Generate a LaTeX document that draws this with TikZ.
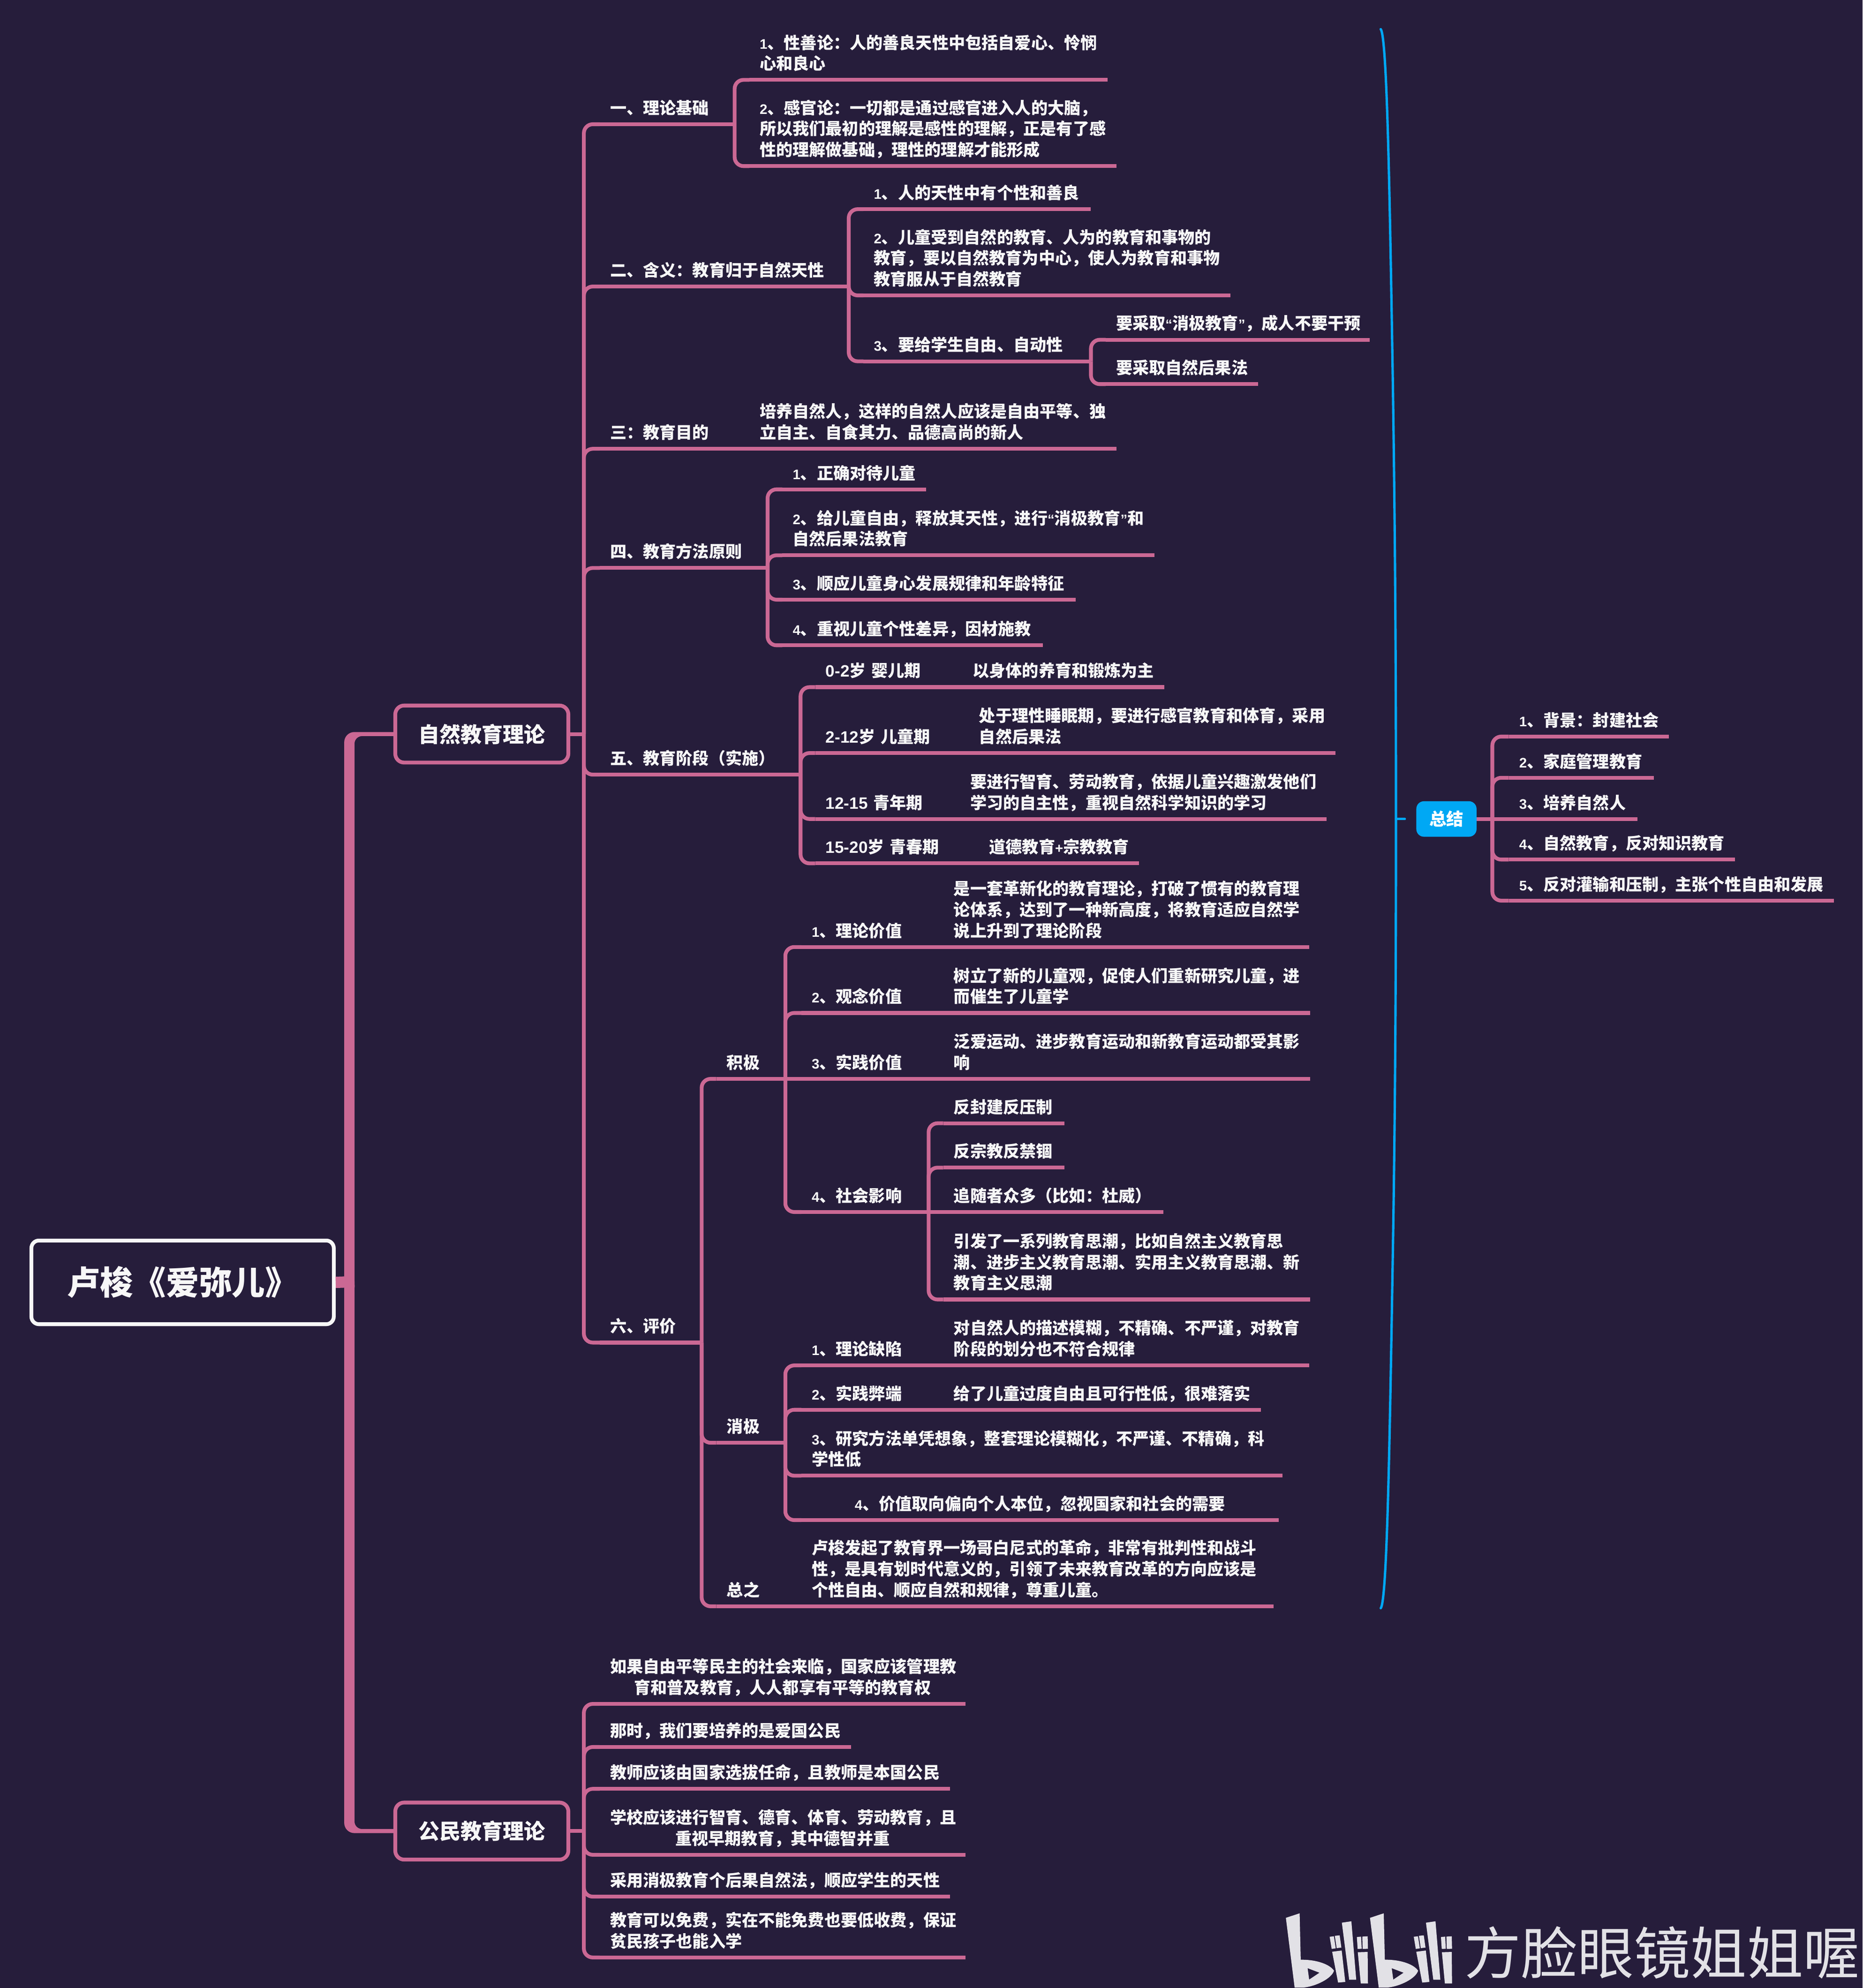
\documentclass[tikz,border=0pt]{standalone}
\usepackage{fontspec}
\setmainfont{Noto Sans CJK SC}
\newfontfamily\digf{Liberation Sans}[Scale=0.84]
\newfontfamily\qf{Liberation Sans}
\newcommand\dg[1]{{\digf #1}}
\newcommand\ag[1]{{\qf #1}}
\newcommand\oqm{{\digf “}}
\newcommand\cqm{{\digf ”}}
\usetikzlibrary{calc}
\definecolor{bgc}{HTML}{261D3B}
\definecolor{pk}{HTML}{CB6894}
\definecolor{bl}{HTML}{00A8F4}
\definecolor{wm}{HTML}{E2E1E6}
\definecolor{wh}{HTML}{F7F7F7}
\tikzset{
 lbl/.style={inner xsep=8pt,inner ysep=5.8pt,text=wh,anchor=south west,font=\fontsize{13}{16.5}\selectfont\bfseries},
 br/.style={draw=pk,line width=3pt,rounded corners=7pt},
 ul/.style={draw=pk,line width=3pt},
 topic/.style={draw=pk,fill=bgc,line width=3pt,rounded corners=7pt,minimum width=136.5pt,minimum height=45pt,inner sep=0pt,text=wh,font=\fontsize{16.7}{20}\selectfont\bfseries},
}
\newcommand\lf[6][left]{%
 \node[lbl,align=#1,text width={#4pt-#3pt-8pt}] (#2) at ({#3-8},#5) {#6\rule[-2pt]{0pt}{2pt}};
 \draw[ul] (#2.south west) -- (#2.south east);
}
\begin{document}
\begin{tikzpicture}[x=1pt,y=-1pt]
\fill[bgc] (0,0) rectangle (1469,1568.1);
\useasboundingbox (0,0) rectangle (1469,1568.1);

% root and main topics
\node[draw=wh,fill=bgc,line width=3pt,rounded corners=6pt,minimum width=238.5pt,minimum height=66pt,inner sep=0pt,text=wh,font=\fontsize{26}{30}\selectfont\bfseries] (root) at (144,1011.5) {卢梭《爱弥儿》};
\node[topic] (t1) at (380,579) {\raisebox{0.6pt}{自然教育理论}};
\node[topic] (t2) at (380,1444.3) {\raisebox{0.6pt}{公民教育理论}};
\coordinate (tr) at (279.6,1011);
\coordinate (bus1) at (460.5,579);
\coordinate (bus2) at (460.5,1444.3);

% trunk
\fill[pk] ($(t1.west)+(0,-1.6)$) -- (282,577.4) [rounded corners=8pt] -- (271.5,577.4) -- (271.5,1445.9) [sharp corners] -- ($(t2.west)+(0,1.6)$) -- ($(t2.west)+(0,-1.6)$) -- (286,1442.7) [rounded corners=6pt] -- (279.6,1442.7) -- (279.6,580.6) [sharp corners] -- (286,580.6) -- ($(t1.west)+(0,1.6)$) -- cycle;
\draw[pk,line width=8.9pt] (root.east) -- (tr);
\draw[ul] (t1.east) -- (bus1);
\draw[ul] (t2.east) -- (bus2);

% 一
\lf{La}{481}{579}{98}{一、理论基础}
\lf{a1}{599}{873}{63}{\dg{1}、性善论：人的善良天性中包括自爱心、怜悯\\心和良心}
\lf{a2}{599}{880}{131}{\dg{2}、感官论：一切都是通过感官进入人的大脑，\\所以我们最初的理解是感性的理解，正是有了感\\性的理解做基础，理性的理解才能形成}
% 二
\lf{Lb}{481}{669}{226}{二、含义：教育归于自然天性}
\lf{b1}{689}{860}{165}{\dg{1}、人的天性中有个性和善良}
\lf{b2}{689}{970}{233}{\dg{2}、儿童受到自然的教育、人为的教育和事物的\\教育，要以自然教育为中心，使人为教育和事物\\教育服从于自然教育}
\lf{b3}{689}{860}{285}{\dg{3}、要给学生自由、自动性}
\lf{c1}{880}{1080}{268}{要采取\oqm 消极教育\cqm ，成人不要干预}
\lf{c2}{880}{992}{303}{要采取自然后果法}
% 三
\lf{Lc}{481}{579}{354}{三：教育目的}
\lf{c3}{599}{880}{354}{培养自然人，这样的自然人应该是自由平等、独\\立自主、自食其力、品德高尚的新人}
% 四
\lf{Ld}{481}{605}{448}{四、教育方法原则}
\lf{d1}{625}{730}{386}{\dg{1}、正确对待儿童}
\lf{d2}{625}{910}{438}{\dg{2}、给儿童自由，释放其天性，进行\oqm 消极教育\cqm 和\\自然后果法教育}
\lf{d3}{625}{848}{473}{\dg{3}、顺应儿童身心发展规律和年龄特征}
\lf{d4}{625}{822}{509}{\dg{4}、重视儿童个性差异，因材施教}
% 五
\lf{Le}{481}{631}{611}{五、教育阶段（实施）}
\lf{e1}{651}{747}{542}{\ag{0-2}岁 婴儿期}
\lf{f1}{767}{918}{542}{以身体的养育和锻炼为主}
\lf{e2}{651}{752}{594}{\ag{2-12}岁 儿童期}
\lf{f2}{772}{1053}{594}{处于理性睡眠期，要进行感官教育和体育，采用\\自然后果法}
\lf{e3}{651}{745}{646}{\ag{12-15} 青年期}
\lf{f3}{765}{1046}{646}{要进行智育、劳动教育，依据儿童兴趣激发他们\\学习的自主性，重视自然科学知识的学习}
\lf{e4}{651}{760}{681}{\ag{15-20}岁 青春期}
\lf{f4}{780}{898}{681}{道德教育{\digf +}宗教教育}
% 六
\lf{Lf}{481}{553}{1059}{六、评价}
\lf{g1}{573}{619}{851}{积极}
\lf{h1}{640}{732}{747}{\dg{1}、理论价值}
\lf{p1}{752}{1032}{747}{是一套革新化的教育理论，打破了惯有的教育理\\论体系，达到了一种新高度，将教育适应自然学\\说上升到了理论阶段}
\lf{h2}{640}{732}{799}{\dg{2}、观念价值}
\lf{p2}{752}{1033}{799}{树立了新的儿童观，促使人们重新研究儿童，进\\而催生了儿童学}
\lf{h3}{640}{732}{851}{\dg{3}、实践价值}
\lf{p3}{752}{1033}{851}{泛爱运动、进步教育运动和新教育运动都受其影\\响}
\lf{h4}{640}{732}{956}{\dg{4}、社会影响}
\lf{i1}{752}{839}{886}{反封建反压制}
\lf{i2}{752}{839}{921}{反宗教反禁锢}
\lf{i3}{752}{917}{956}{追随者众多（比如：杜威）}
\lf{i4}{752}{1033}{1025}{引发了一系列教育思潮，比如自然主义教育思\\潮、进步主义教育思潮、实用主义教育思潮、新\\教育主义思潮}
\lf{g2}{573}{619}{1138}{消极}
\lf{j1}{640}{732}{1077}{\dg{1}、理论缺陷}
\lf{q1}{752}{1032}{1077}{对自然人的描述模糊，不精确、不严谨，对教育\\阶段的划分也不符合规律}
\lf{j2}{640}{732}{1112}{\dg{2}、实践弊端}
\lf{q2}{752}{994}{1112}{给了儿童过度自由且可行性低，很难落实}
\lf{j3}{640}{1011}{1164}{\dg{3}、研究方法单凭想象，整套理论模糊化，不严谨、不精确，科\\学性低}
\lf[center]{j4}{640}{1008}{1199}{\dg{4}、价值取向偏向个人本位，忽视国家和社会的需要}
\lf{g3}{573}{619}{1267}{总之}
\lf{r1}{640}{1004}{1267}{卢梭发起了教育界一场哥白尼式的革命，非常有批判性和战斗\\性，是具有划时代意义的，引领了未来教育改革的方向应该是\\个性自由、顺应自然和规律，尊重儿童。}
% 公民
\lf[center]{k1}{481}{761}{1344}{如果自由平等民主的社会来临，国家应该管理教\\育和普及教育，人人都享有平等的教育权}
\lf{k2}{481}{671}{1378}{那时，我们要培养的是爱国公民}
\lf{k3}{481}{749}{1411}{教师应该由国家选拔任命，且教师是本国公民}
\lf[center]{k4}{481}{761}{1463}{学校应该进行智育、德育、体育、劳动教育，且\\重视早期教育，其中德智并重}
\lf{k5}{481}{749}{1496}{采用消极教育个后果自然法，顺应学生的天性}
\lf{k6}{481}{761}{1544}{教育可以免费，实在不能免费也要低收费，保证\\贫民孩子也能入学}

\foreach \c in {La,Lb,Lc,Ld,Le,Lf} \draw[br] (bus1) |- (\c.south west);
\foreach \c in {k1,k2,k3,k4,k5,k6} \draw[br] (bus2) |- (\c.south west);
\foreach \p/\c in {La/a1,La/a2,Lb/b1,Lb/b2,Lb/b3,b3/c1,b3/c2,Ld/d1,Ld/d2,Ld/d3,Ld/d4,Le/e1,Le/e2,Le/e3,Le/e4,Lf/g1,Lf/g2,Lf/g3,g1/h1,g1/h2,g1/h4,h4/i1,h4/i2,h4/i4,g2/j1,g2/j2,g2/j3,g2/j4}
  \draw[br] (\p.south east) |- (\c.south west);
\foreach \p/\c in {Lc/c3,e1/f1,e2/f2,e3/f3,e4/f4,h1/p1,h2/p2,h3/p3,g1/h3,h4/i3,j1/q1,j2/q2,g3/r1}
  \draw[ul] (\p.south east) -- (\c.south west);

% summary
\node[fill=bl,rounded corners=6pt,minimum width=47.5pt,minimum height=28pt,inner sep=0pt,text=white,font=\fontsize{13.5}{16}\selectfont\bfseries] (sum) at (1140.8,646) {总结};
\coordinate (bt) at (1089,23);
\coordinate (bb) at (1089,1268.5);
\coordinate (bm) at (1101,646);
\coordinate (tick) at (1108,646);
\draw[bl,line width=1.9pt,line cap=round] (bt) .. controls (1094,30) and (1096,150) .. (1098.5,300) .. controls (1100,400) and (1101,500) .. (bm) .. controls (1101,800) and (1100,900) .. (1098.5,990) .. controls (1096,1140) and (1094,1262) .. (bb);
\draw[bl,line width=1.8pt,line cap=round] (bm) -- (tick);
\coordinate (bus3) at (1177,646);
\draw[ul] (sum.east) -- (bus3);
\lf{s1}{1198}{1316}{581}{\dg{1}、背景：封建社会}
\lf{s2}{1198}{1304}{613.5}{\dg{2}、家庭管理教育}
\lf{s3}{1198}{1291}{646}{\dg{3}、培养自然人}
\lf{s4}{1198}{1368}{678}{\dg{4}、自然教育，反对知识教育}
\lf{s5}{1198}{1446}{710.4}{\dg{5}、反对灌输和压制，主张个性自由和发展}
\foreach \c in {s1,s2,s4,s5} \draw[br] (bus3) |- (\c.south west);
\draw[ul] (bus3) -- (s3.south west);

% watermark
\foreach \dx in {0,538}{
\begin{scope}[shift={(998.5,1494)},x=0.1233pt,y=-0.1233pt,xshift=\dx*0.1233pt]
 \fill[wm,even odd rule] (127,152) -- (215,123) -- (222,420) .. controls (300,418) and (400,440) .. (435,490) .. controls (420,540) and (320,590) .. (240,598) -- (183,598) -- cycle (266,474) -- (342,503) -- (276,547) -- cycle;
 \fill[wm] (407,273) -- (434,270) -- (446,347) -- (420,351) -- cycle;
 \fill[wm] (440,267) -- (471,264) -- (482,342) -- (452,346) -- cycle;
 \fill[wm] (423,369) -- (484,361) -- (507,562) -- (461,566) -- cycle;
 \fill[wm] (485,183) -- (546,174) -- (577,548) -- (532,548) -- cycle;
 \fill[wm] (581,275) -- (608,272) -- (612,350) -- (586,351) -- cycle;
 \fill[wm] (616,272) -- (650,270) -- (652,350) -- (618,351) -- cycle;
 \fill[wm] (587,372) -- (650,370) -- (652,572) -- (606,572) -- cycle;
\end{scope}}
\node[anchor=base west,inner sep=0pt,text=wm,font=\fontsize{44.5}{48}\selectfont] (mark) at (1155,1557) {方脸眼镜姐姐喔};
\end{tikzpicture}
\end{document}
